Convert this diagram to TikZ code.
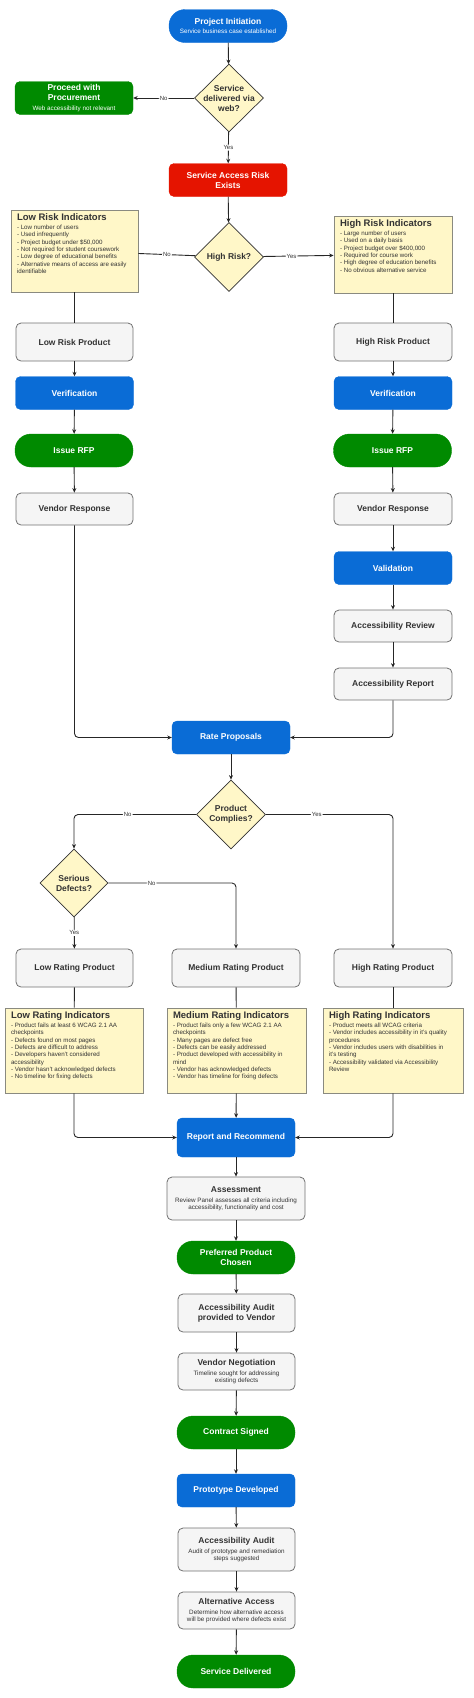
\documentclass[tikz,border=0pt]{standalone}
\usepackage{fontspec}
\setmainfont{Liberation Sans}
\usetikzlibrary{shapes.geometric,arrows.meta}

\definecolor{flowblue}{HTML}{0A6CD6}
\definecolor{flowgreen}{HTML}{008A00}
\definecolor{flowred}{HTML}{E51400}
\definecolor{noteyellow}{HTML}{FFF7C8}
\definecolor{noteline}{HTML}{8A8A80}
\definecolor{procfill}{HTML}{F5F5F5}
\definecolor{procline}{HTML}{707070}
\definecolor{textdark}{HTML}{333333}

\newcommand{\subfont}{\fontsize{6.3}{7.5}\selectfont\mdseries}
\newcommand{\subline}[2][-0.5pt]{\\[#1]\subfont #2}
\newcommand{\notetext}[4]{\parbox[c][#2][t]{#1}{\raggedright
  {\fontsize{9.5}{11}\selectfont\bfseries #3}\\[1.5pt] #4}}

\begin{document}
\begin{tikzpicture}[
    x=1pt, y=-1pt,
    terminal/.style={
        rectangle,
        draw=flowgreen,
        fill=flowgreen,
        text=white,
        font=\fontsize{8.5}{10}\selectfont\bfseries,
        minimum width=118pt,
        minimum height=33pt,
        inner sep=0pt,
        align=center,
        rounded corners=16pt
    },
    action/.style={
        rectangle,
        draw=flowblue,
        fill=flowblue,
        text=white,
        font=\fontsize{8.5}{10}\selectfont\bfseries,
        minimum width=118pt,
        minimum height=33pt,
        inner sep=0pt,
        align=center,
        rounded corners=5pt
    },
    process/.style={
        rectangle,
        draw=procline,
        line width=0.8pt,
        fill=procfill,
        text=textdark,
        font=\fontsize{8.5}{10}\selectfont\bfseries,
        minimum width=117pt,
        minimum height=32pt,
        inner sep=0pt,
        align=center,
        rounded corners=5pt
    },
    decision/.style={
        diamond,
        draw=textdark,
        line width=0.7pt,
        fill=noteyellow,
        text=textdark,
        font=\fontsize{8.5}{10}\selectfont\bfseries,
        minimum width=69pt,
        minimum height=68pt,
        inner sep=-6pt,
        align=center
    },
    note/.style={
        rectangle,
        draw=noteline,
        line width=0.8pt,
        fill=noteyellow,
        text=textdark,
        font=\fontsize{6.2}{7.3}\selectfont,
        inner xsep=6pt,
        inner ysep=4pt
    },
    connector/.style={
        draw=black!85,
        line width=0.9pt,
        rounded corners=4pt
    },
    arrow/.style={
        connector,
        -{Stealth[length=4.5pt,width=4pt]}
    },
    lbl/.style={
        fill=white,
        text=textdark,
        inner sep=1pt,
        font=\fontsize{6}{7}\selectfont
    }
]
\useasboundingbox (0,0) rectangle (474,1698);

% Inicio
\node[terminal, draw=flowblue, fill=flowblue] (init) at (228,26)
    {Project Initiation\subline{Service business case established}};
\node[decision] (web) at (229,98) {Service\\delivered via\\web?};
\node[action, draw=flowgreen, fill=flowgreen] (proceed) at (74,98)
    {Proceed with\\Procurement\subline{Web accessibility not relevant}};
\node[action, draw=flowred, fill=flowred] (riskexists) at (228,180)
    {Service Access Risk\\Exists};

% Riesgo
\node[decision, minimum height=69pt] (highrisk) at (229,257) {High Risk?};
\node[note] (lowind) at (74.5,251) {\notetext{115pt}{74pt}{Low Risk Indicators}{%
    - Low number of users\\
    - Used infrequently\\
    - Project budget under \$50,000\\
    - Not required for student coursework\\
    - Low degree of educational benefits\\
    - Alternative means of access are easily\\
    identifiable}};
\node[note] (highind) at (393,254.5) {\notetext{106pt}{69pt}{High Risk Indicators}{%
    - Large number of users\\
    - Used on a daily basis\\
    - Project budget over \$400,000\\
    - Required for course work\\
    - High degree of education benefits\\
    - No obvious alternative service}};

% Rama izquierda
\node[process, minimum height=38pt] (lowprod) at (74.5,342) {Low Risk Product};
\node[action] (lowver) at (74.5,393) {Verification};
\node[terminal] (lowrfp) at (74,450.5) {Issue RFP};
\node[process] (lowvendor) at (74.5,509) {Vendor Response};

% Rama derecha
\node[process, minimum width=118pt, minimum height=38pt] (highprod) at (393,342) {High Risk Product};
\node[action] (highver) at (393,393) {Verification};
\node[terminal] (highrfp) at (392.5,450.5) {Issue RFP};
\node[process, minimum width=118pt] (highvendor) at (393,509) {Vendor Response};
\node[action] (validation) at (393,568) {Validation};
\node[process, minimum width=118pt] (review) at (393,626) {Accessibility Review};
\node[process, minimum width=118pt] (report) at (393,684) {Accessibility Report};

% Evaluación
\node[action] (rate) at (231,737.5) {Rate Proposals};
\node[decision, minimum height=69pt] (complies) at (231,814.5) {Product\\Complies?};
\node[decision, minimum width=68pt] (serious) at (74,883) {Serious\\Defects?};

\node[process, minimum height=38pt] (lowrating) at (74.5,968) {Low Rating Product};
\node[process, minimum width=128pt, minimum height=38pt] (medrating) at (236,968) {Medium Rating Product};
\node[process, minimum width=118pt, minimum height=38pt] (highrating) at (393,968) {High Rating Product};

\node[note] (lowrind) at (74,1050.5) {\notetext{126pt}{77pt}{Low Rating Indicators}{%
    - Product fails at least 6 WCAG 2.1 AA\\
    checkpoints\\
    - Defects found on most pages\\
    - Defects are difficult to address\\
    - Developers haven't considered\\
    accessibility\\
    - Vendor hasn't acknowledged defects\\
    - No timeline for fixing defects}};
\node[note] (medrind) at (236.5,1050.5) {\notetext{127pt}{77pt}{Medium Rating Indicators}{%
    - Product fails only a few WCAG 2.1 AA\\
    checkpoints\\
    - Many pages are defect free\\
    - Defects can be easily addressed\\
    - Product developed with accessibility in\\
    mind\\
    - Vendor has acknowledged defects\\
    - Vendor has timeline for fixing defects}};
\node[note] (highrind) at (393,1050.5) {\notetext{128pt}{77pt}{High Rating Indicators}{%
    - Product meets all WCAG criteria\\
    - Vendor includes accessibility in it's quality\\
    procedures\\
    - Vendor includes users with disabilities in\\
    it's testing\\
    - Accessibility validated via Accessibility\\
    Review}};

% Contratación
\node[action, minimum height=39pt] (recommend) at (236,1137.5) {Report and Recommend};
\node[process, minimum width=138pt, minimum height=43pt] (assess) at (236,1198.5)
    {Assessment\subline{Review Panel assesses all criteria including}\subline[-3pt]{accessibility, functionality and cost}};
\node[terminal] (chosen) at (236,1257.5) {Preferred Product\\Chosen};
\node[process, minimum height=38pt] (auditvendor) at (236.5,1313) {Accessibility Audit\\provided to Vendor};
\node[process, minimum height=37pt] (negotiation) at (236.5,1371.5)
    {Vendor Negotiation\subline{Timeline sought for addressing}\subline[-3pt]{existing defects}};
\node[terminal] (signed) at (236,1432.5) {Contract Signed};
\node[action] (prototype) at (236,1490.5) {Prototype Developed};
\node[process, minimum height=43pt] (audit) at (236.5,1549.5)
    {Accessibility Audit\subline{Audit of prototype and remediation}\subline[-3pt]{steps suggested}};
\node[process, minimum height=37pt] (altaccess) at (236.5,1610.5)
    {Alternative Access\subline{Determine how alternative access}\subline[-3pt]{will be provided where defects exist}};
\node[terminal] (delivered) at (236,1671.5) {Service Delivered};

% Flechas conectoras
\draw[arrow] (init) -- (web);
\draw[arrow] (web) -- node[lbl]{No} (proceed);
\draw[arrow] (web) -- node[lbl]{Yes} (riskexists);
\draw[arrow] (riskexists) -- (highrisk);
\draw[connector] (highrisk) -- node[lbl]{No} (lowind);
\draw[arrow] (highrisk) -- node[lbl, pos=0.4]{Yes} (highind);
\draw[connector] (lowind) -- (lowprod);
\draw[connector] (highind) -- (highprod);

\draw[arrow] (lowprod) -- (lowver);
\draw[arrow] (lowver) -- (lowrfp);
\draw[arrow] (lowrfp) -- (lowvendor);
\draw[arrow] (lowvendor.south) |- (rate.west);

\draw[arrow] (highprod) -- (highver);
\draw[arrow] (highver) -- (highrfp);
\draw[arrow] (highrfp) -- (highvendor);
\draw[arrow] (highvendor) -- (validation);
\draw[arrow] (validation) -- (review);
\draw[arrow] (review) -- (report);
\draw[arrow] (report.south) |- (rate.east);

\draw[arrow] (rate) -- (complies);
\draw[arrow] (complies.west) -| node[lbl, pos=0.28]{No} (serious.north);
\draw[arrow] (complies.east) -| node[lbl, pos=0.2]{Yes} (highrating.north);
\draw[arrow] (serious.east) -| node[lbl, pos=0.17]{No} (medrating.north);
\draw[arrow] (serious) -- node[lbl]{Yes} (lowrating);

\draw[connector] (lowrating) -- (lowrind);
\draw[connector] (medrating) -- (medrind);
\draw[connector] (highrating) -- (highrind);
\draw[arrow] (lowrind.south) |- (recommend.west);
\draw[arrow] (medrind) -- (recommend);
\draw[arrow] (highrind.south) |- (recommend.east);

\draw[arrow] (recommend) -- (assess);
\draw[arrow] (assess) -- (chosen);
\draw[arrow] (chosen) -- (auditvendor);
\draw[arrow] (auditvendor) -- (negotiation);
\draw[arrow] (negotiation) -- (signed);
\draw[arrow] (signed) -- (prototype);
\draw[arrow] (prototype) -- (audit);
\draw[arrow] (audit) -- (altaccess);
\draw[arrow] (altaccess) -- (delivered);

\end{tikzpicture}
\end{document}
